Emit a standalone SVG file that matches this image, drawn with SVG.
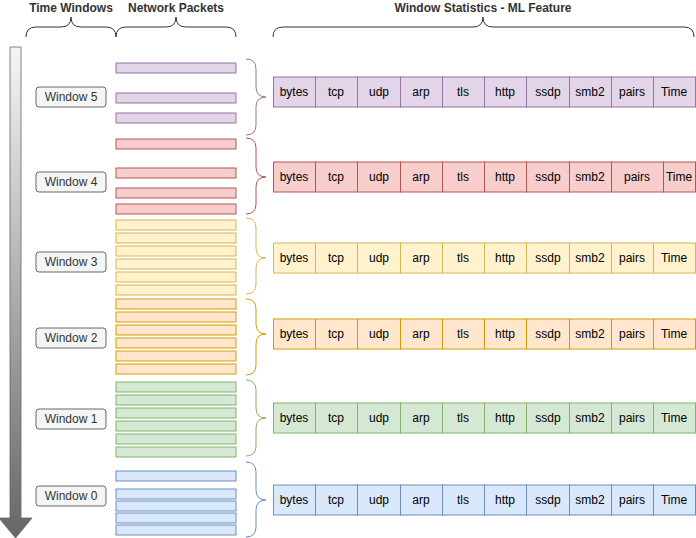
<svg xmlns="http://www.w3.org/2000/svg" width="696" height="538" viewBox="0 0 696 538">
<defs>
<linearGradient id="g" x1="0" y1="0" x2="0" y2="1"><stop offset="0" stop-color="#f5f5f5"/><stop offset="1" stop-color="#666"/></linearGradient>
<style>
text{font-family:"Liberation Sans",Arial,sans-serif;font-size:12px;fill:#000;stroke:none;text-anchor:middle;dominant-baseline:central}
.h{font-weight:bold;fill:#333}
.lb rect{fill:#f5f5f5;stroke:#666}
.lb text{fill:#333}
.br{fill:none;stroke-width:1}
.p5{fill:#e1d5e7;stroke:#9673a6}.p4{fill:#f8cecc;stroke:#b85450}.p3{fill:#fff2cc;stroke:#d6b656}
.p2{fill:#ffe6cc;stroke:#d79b00}.p1{fill:#d5e8d4;stroke:#82b366}.p0{fill:#dae8fc;stroke:#6c8ebf}
</style>
</defs>
<rect width="696" height="538" fill="#fff"/>
<g id="headers">
<text class="h" x="71" y="8">Time Windows</text>
<text class="h" x="176" y="8">Network Packets</text>
<text class="h" x="483" y="8">Window Statistics - ML Feature</text>
<path class="br" stroke="#333" d="M26,37 q0,-10 10,-10 h25 q10,0 10,-10 q0,10 10,10 h25 q10,0 10,10"/>
<path class="br" stroke="#333" d="M116,37 q0,-10 10,-10 h40 q10,0 10,-10 q0,10 10,10 h40 q10,0 10,10"/>
<path class="br" stroke="#333" d="M273,37 q0,-10 10,-10 h190 q10,0 10,-10 q0,10 10,10 h191 q10,0 10,10"/>
</g>
<g id="time-arrow">
<path d="M10,47 h11 v471 h11 l-16.5,20 l-16.5,-20 h11 z" fill="url(#g)" stroke="#666" stroke-width="0.8"/>
</g>
<g id="labels" class="lb">
<g id="w5"><rect x="36" y="87" width="70" height="20" rx="3"/><text x="71" y="97">Window 5</text></g>
<g id="w4"><rect x="36" y="172" width="70" height="20" rx="3"/><text x="71" y="182">Window 4</text></g>
<g id="w3"><rect x="36" y="252" width="70" height="20" rx="3"/><text x="71" y="262">Window 3</text></g>
<g id="w2"><rect x="36" y="328" width="70" height="20" rx="3"/><text x="71" y="338">Window 2</text></g>
<g id="w1"><rect x="36" y="409" width="70" height="20" rx="3"/><text x="71" y="419">Window 1</text></g>
<g id="w0"><rect x="36" y="486" width="70" height="20" rx="3"/><text x="71" y="496">Window 0</text></g>
</g>
<g id="packets">
<g class="p5"><rect x="116" y="63" width="120" height="10"/><rect x="116" y="93" width="120" height="10"/><rect x="116" y="113" width="120" height="10"/></g>
<g class="p4"><rect x="116" y="139" width="120" height="10"/><rect x="116" y="168" width="120" height="10"/><rect x="116" y="188" width="120" height="10"/><rect x="116" y="204" width="120" height="10"/></g>
<g class="p3"><rect x="116" y="220" width="120" height="10"/><rect x="116" y="233" width="120" height="10"/><rect x="116" y="246" width="120" height="10"/><rect x="116" y="259" width="120" height="10"/><rect x="116" y="272" width="120" height="10"/><rect x="116" y="285" width="120" height="10"/></g>
<g class="p2"><rect x="116" y="299" width="120" height="10"/><rect x="116" y="312" width="120" height="10"/><rect x="116" y="325" width="120" height="10"/><rect x="116" y="338" width="120" height="10"/><rect x="116" y="351" width="120" height="10"/><rect x="116" y="364" width="120" height="10"/></g>
<g class="p1"><rect x="116" y="382" width="120" height="10"/><rect x="116" y="395" width="120" height="10"/><rect x="116" y="408" width="120" height="10"/><rect x="116" y="421" width="120" height="10"/><rect x="116" y="434" width="120" height="10"/><rect x="116" y="447" width="120" height="10"/></g>
<g class="p0"><rect x="116" y="471" width="120" height="10"/><rect x="116" y="489" width="120" height="10"/><rect x="116" y="501" width="120" height="10"/><rect x="116" y="513" width="120" height="10"/><rect x="116" y="525" width="120" height="10"/></g>
</g>
<g id="connectors">
<path class="br" stroke="#9673a6" d="M246,59 q10,0 10,10 v18 q0,10 10,10 q-10,0 -10,10 v18 q0,10 -10,10"/>
<path class="br" stroke="#b85450" d="M246,138 q10,0 10,10 v19 q0,10 10,10 q-10,0 -10,10 v17 q0,10 -10,10"/>
<path class="br" stroke="#d6b656" d="M246,218 q10,0 10,10 v20 q0,10 10,10 q-10,0 -10,10 v16 q0,10 -10,10"/>
<path class="br" stroke="#d79b00" d="M246,299 q10,0 10,10 v15 q0,10 10,10 q-10,0 -10,10 v21 q0,10 -10,10"/>
<path class="br" stroke="#82b366" d="M246,380 q10,0 10,10 v18 q0,10 10,10 q-10,0 -10,10 v18 q0,10 -10,10"/>
<path class="br" stroke="#6c8ebf" d="M246,462 q10,0 10,10 v18 q0,10 10,10 q-10,0 -10,10 v17 q0,10 -10,10"/>
</g>
<g id="row5" class="p5">
<rect x="273.5" y="77" width="42" height="30"/><rect x="315.5" y="77" width="42" height="30"/><rect x="357.5" y="77" width="43" height="30"/><rect x="400.5" y="77" width="42" height="30"/><rect x="442.5" y="77" width="42" height="30"/><rect x="484.5" y="77" width="42" height="30"/><rect x="526.5" y="77" width="43" height="30"/><rect x="569.5" y="77" width="42" height="30"/><rect x="611.5" y="77" width="42" height="30"/><rect x="653.5" y="77" width="42" height="30"/>
<text x="294" y="92">bytes</text><text x="336" y="92">tcp</text><text x="379" y="92">udp</text><text x="421" y="92">arp</text><text x="463" y="92">tls</text><text x="505" y="92">http</text><text x="548" y="92">ssdp</text><text x="590" y="92">smb2</text><text x="632" y="92">pairs</text><text x="674" y="92">Time</text>
</g>
<g id="row4" class="p4">
<rect x="273.5" y="162" width="42" height="30"/><rect x="315.5" y="162" width="42" height="30"/><rect x="357.5" y="162" width="43" height="30"/><rect x="400.5" y="162" width="42" height="30"/><rect x="442.5" y="162" width="42" height="30"/><rect x="484.5" y="162" width="42" height="30"/><rect x="526.5" y="162" width="43" height="30"/><rect x="569.5" y="162" width="42" height="30"/><rect x="611.5" y="162" width="52" height="30"/><rect x="663.5" y="162" width="32" height="30"/>
<text x="294" y="177">bytes</text><text x="336" y="177">tcp</text><text x="379" y="177">udp</text><text x="421" y="177">arp</text><text x="463" y="177">tls</text><text x="505" y="177">http</text><text x="548" y="177">ssdp</text><text x="590" y="177">smb2</text><text x="637" y="177">pairs</text><text x="679" y="177">Time</text>
</g>
<g id="row3" class="p3">
<rect x="273.5" y="243" width="42" height="30"/><rect x="315.5" y="243" width="42" height="30"/><rect x="357.5" y="243" width="43" height="30"/><rect x="400.5" y="243" width="42" height="30"/><rect x="442.5" y="243" width="42" height="30"/><rect x="484.5" y="243" width="42" height="30"/><rect x="526.5" y="243" width="43" height="30"/><rect x="569.5" y="243" width="42" height="30"/><rect x="611.5" y="243" width="42" height="30"/><rect x="653.5" y="243" width="42" height="30"/>
<text x="294" y="258">bytes</text><text x="336" y="258">tcp</text><text x="379" y="258">udp</text><text x="421" y="258">arp</text><text x="463" y="258">tls</text><text x="505" y="258">http</text><text x="548" y="258">ssdp</text><text x="590" y="258">smb2</text><text x="632" y="258">pairs</text><text x="674" y="258">Time</text>
</g>
<g id="row2" class="p2">
<rect x="273.5" y="319" width="42" height="30"/><rect x="315.5" y="319" width="42" height="30"/><rect x="357.5" y="319" width="43" height="30"/><rect x="400.5" y="319" width="42" height="30"/><rect x="442.5" y="319" width="42" height="30"/><rect x="484.5" y="319" width="42" height="30"/><rect x="526.5" y="319" width="43" height="30"/><rect x="569.5" y="319" width="42" height="30"/><rect x="611.5" y="319" width="42" height="30"/><rect x="653.5" y="319" width="42" height="30"/>
<text x="294" y="334">bytes</text><text x="336" y="334">tcp</text><text x="379" y="334">udp</text><text x="421" y="334">arp</text><text x="463" y="334">tls</text><text x="505" y="334">http</text><text x="548" y="334">ssdp</text><text x="590" y="334">smb2</text><text x="632" y="334">pairs</text><text x="674" y="334">Time</text>
</g>
<g id="row1" class="p1">
<rect x="273.5" y="403" width="42" height="30"/><rect x="315.5" y="403" width="42" height="30"/><rect x="357.5" y="403" width="43" height="30"/><rect x="400.5" y="403" width="42" height="30"/><rect x="442.5" y="403" width="42" height="30"/><rect x="484.5" y="403" width="42" height="30"/><rect x="526.5" y="403" width="43" height="30"/><rect x="569.5" y="403" width="42" height="30"/><rect x="611.5" y="403" width="42" height="30"/><rect x="653.5" y="403" width="42" height="30"/>
<text x="294" y="418">bytes</text><text x="336" y="418">tcp</text><text x="379" y="418">udp</text><text x="421" y="418">arp</text><text x="463" y="418">tls</text><text x="505" y="418">http</text><text x="548" y="418">ssdp</text><text x="590" y="418">smb2</text><text x="632" y="418">pairs</text><text x="674" y="418">Time</text>
</g>
<g id="row0" class="p0">
<rect x="273.5" y="485" width="42" height="30"/><rect x="315.5" y="485" width="42" height="30"/><rect x="357.5" y="485" width="43" height="30"/><rect x="400.5" y="485" width="42" height="30"/><rect x="442.5" y="485" width="42" height="30"/><rect x="484.5" y="485" width="42" height="30"/><rect x="526.5" y="485" width="43" height="30"/><rect x="569.5" y="485" width="42" height="30"/><rect x="611.5" y="485" width="42" height="30"/><rect x="653.5" y="485" width="42" height="30"/>
<text x="294" y="500">bytes</text><text x="336" y="500">tcp</text><text x="379" y="500">udp</text><text x="421" y="500">arp</text><text x="463" y="500">tls</text><text x="505" y="500">http</text><text x="548" y="500">ssdp</text><text x="590" y="500">smb2</text><text x="632" y="500">pairs</text><text x="674" y="500">Time</text>
</g>
</svg>
